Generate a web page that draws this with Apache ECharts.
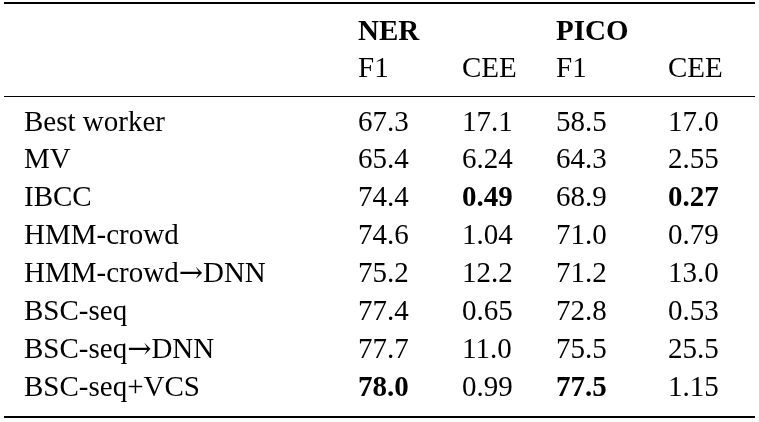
<!DOCTYPE html>
<html><head><meta charset="utf-8">
<script src="https://cdn.jsdelivr.net/npm/echarts@6/dist/echarts.min.js"></script>
<style>html,body{margin:0;background:#fff}#main{width:759px;height:422px}</style>
</head><body><div id="main"></div>
<script>
// table contents
const methods = ['Best worker', 'MV', 'IBCC', 'HMM-crowd', 'HMM-crowd{a|\u2192}DNN', 'BSC-seq', 'BSC-seq{a|\u2192}DNN', 'BSC-seq+VCS'];
const nerF1 = ['67.3', '65.4', '74.4', '74.6', '75.2', '77.4', '77.7', '78.0'];
const nerCEE = ['17.1', '6.24', '0.49', '1.04', '12.2', '0.65', '11.0', '0.99'];
const picoF1 = ['58.5', '64.3', '68.9', '71.0', '71.2', '72.8', '75.5', '77.5'];
const picoCEE = ['17.0', '2.55', '0.27', '0.79', '13.0', '0.53', '25.5', '1.15'];
const boldCells = [[2, 2], [4, 2], [1, 7], [3, 7]]; // [column, row]

const columns = [methods, nerF1, nerCEE, picoF1, picoCEE];
const colX = [24, 358, 462, 556, 668];
const font = '"Liberation Serif", "DejaVu Serif", serif';
const fs = 29;

const cells = [];
columns.forEach((col, c) => col.forEach((txt, r) => {
    const bold = boldCells.some(b => b[0] === c && b[1] === r);
    cells.push([colX[c], r, txt, bold ? 1 : 0]);
}));

const hdr = (txt, x, y, bold) => ({
    type: 'text', x: x, y: y,
    style: { text: txt, font: (bold ? 'bold ' : '') + fs + 'px ' + font, fill: '#000', verticalAlign: 'middle' }
});

const chart = echarts.init(document.getElementById('main'));
chart.setOption({
    animation: false,
    grid: { left: 0, right: 0, top: 104, bottom: 15 },
    xAxis: { type: 'value', min: 0, max: 759, show: false },
    yAxis: { type: 'category', data: methods, inverse: true, show: false },
    graphic: [
        { type: 'line', shape: { x1: 4, y1: 3, x2: 755, y2: 3 }, style: { stroke: '#000', lineWidth: 2 } },
        { type: 'line', shape: { x1: 4, y1: 96.5, x2: 755, y2: 96.5 }, style: { stroke: '#000', lineWidth: 1.2 } },
        { type: 'line', shape: { x1: 4, y1: 417, x2: 755, y2: 417 }, style: { stroke: '#000', lineWidth: 2 } },
        hdr('NER', 358, 33, true),
        hdr('PICO', 556, 33, true),
        hdr('F1', 358, 69), hdr('CEE', 462, 69), hdr('F1', 556, 69), hdr('CEE', 668, 69)
    ],
    series: [{
        type: 'custom',
        data: cells,
        renderItem: function (params, api) {
            const p = api.coord([api.value(0), api.value(1)]);
            return {
                type: 'text',
                x: p[0], y: p[1],
                style: {
                    text: cells[params.dataIndex][2],
                    font: (api.value(3) ? 'bold ' : '') + fs + 'px ' + font,
                    rich: { a: { font: fs + 'px "DejaVu Serif", serif', fill: '#000' } },
                    fill: '#000', align: 'left', verticalAlign: 'middle'
                }
            };
        }
    }]
});
</script></body></html>
